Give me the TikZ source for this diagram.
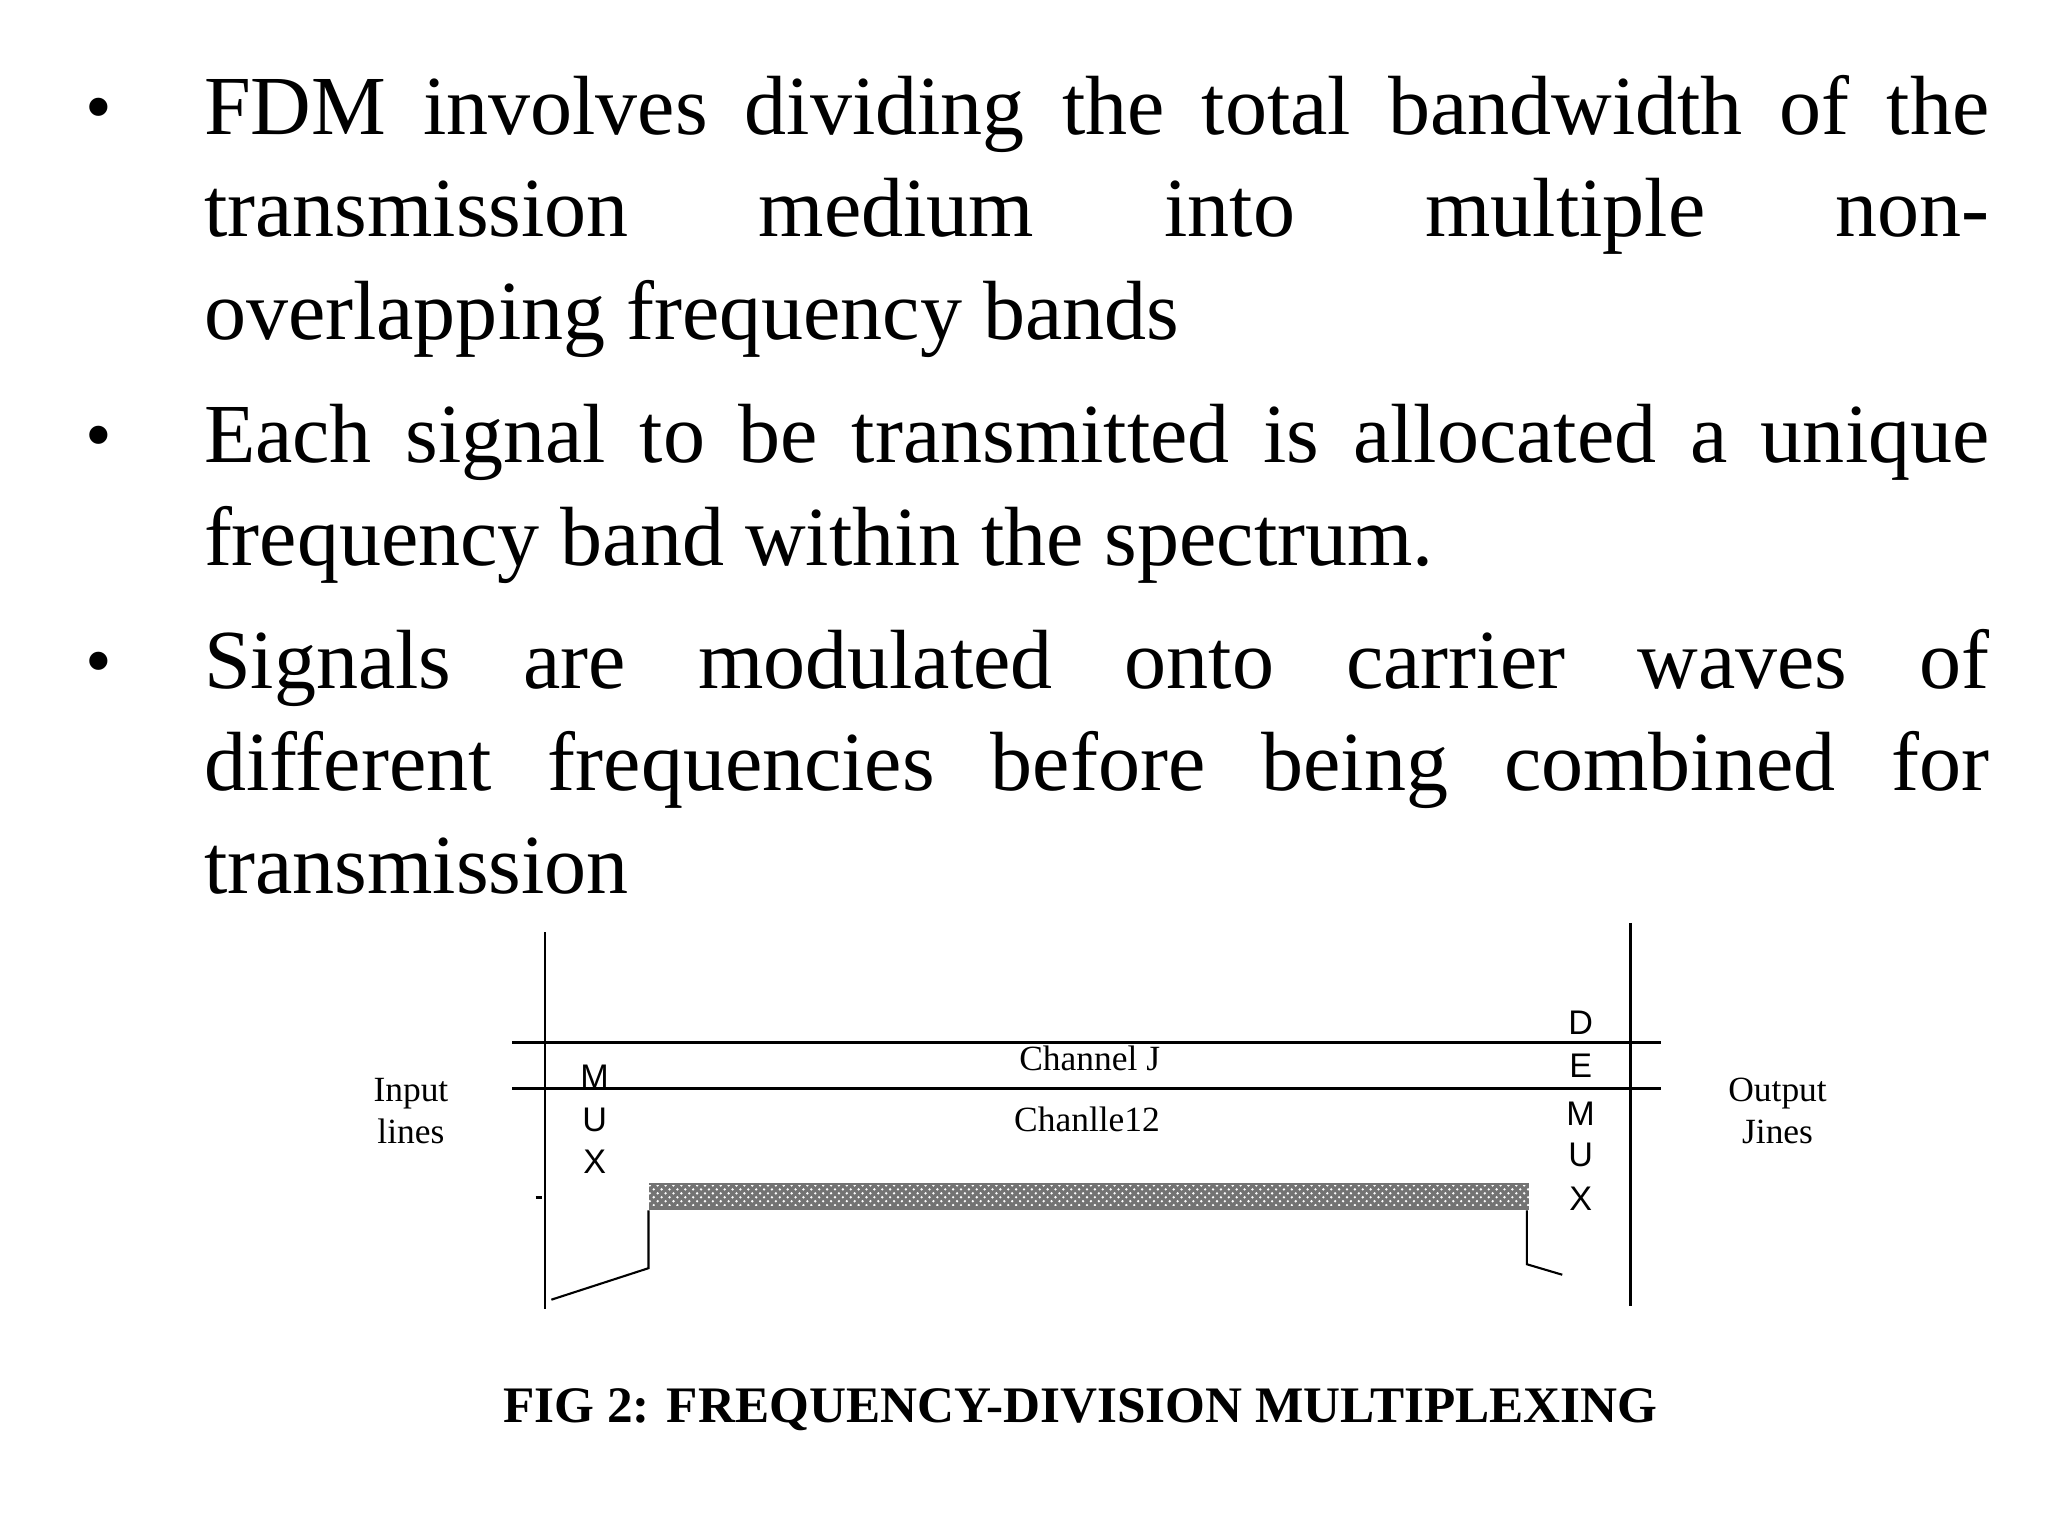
\documentclass[tikz,border=0pt]{standalone}
\usepackage{fontspec}
\setmainfont{Liberation Serif}
\newfontfamily\sansf{Liberation Sans}
\usetikzlibrary{patterns}
\begin{document}
\begin{tikzpicture}[x=0.5pt,y=-0.5pt,
  lbl/.style={font=\fontsize{13.5}{16}\selectfont, inner sep=0pt, align=center},
  let/.style={font=\sansf\fontsize{13}{13}\selectfont, inner sep=0pt},
  ln/.style={line width=0.8pt}]
\useasboundingbox (0,0) rectangle (1560,1170);
\node[anchor=north west, inner sep=0pt] (txt) at (155,57) {%
\begin{minipage}[t]{680pt}\fontsize{32}{39}\selectfont\setlength{\parskip}{8pt}\setlength{\parindent}{0pt}%
\rightskip=0pt \parfillskip=0pt plus 1fil
FDM involves dividing the total bandwidth of the\linebreak transmission medium into multiple non-\linebreak overlapping frequency bands\par
Each signal to be transmitted is allocated a unique\linebreak frequency band within the spectrum.\par
Signals are modulated onto carrier waves of\linebreak different frequencies before being combined for\linebreak transmission\par
\end{minipage}};
\foreach \y/\n in {88/b1,338/b2,510/b3}
  \node[font=\fontsize{29}{29}\selectfont, inner sep=0pt] (\n) at (75,\y) {•};
% diagram
\coordinate (l1) at (415,710); \coordinate (l2) at (415,997);
\coordinate (r1) at (1242,703); \coordinate (r2) at (1242,995);
\draw[ln] (l1) -- (l2);
\draw[ln] (r1) -- (r2);
\coordinate (h1a) at (390,794); \coordinate (h1b) at (1265,794);
\coordinate (h2a) at (390,829); \coordinate (h2b) at (1265,829);
\draw[line width=1.2pt] (h1a) -- (h1b);
\draw[line width=1.2pt] (h2a) -- (h2b);
\node[lbl] (cj) at (830,806) {Channel J};
\node[lbl] (c2) at (828,853) {Chanlle12};
\node[lbl] (in) at (313,846) {Input\\lines};
\node[lbl] (out) at (1354,846) {Output\\Jines};
\node[let] (m1) at (453,820) {M};
\node[let] (m2) at (453,853) {U};
\node[let] (m3) at (453,885) {X};
\foreach \l/\y/\n in {D/779/d1,E/812/d2,M/848/d3,U/880/d4,X/913/d5}
  \node[let] (\n) at (1204,\y) {\l};
\fill[black!55] (494,901) rectangle (1165,922);
\fill[pattern=crosshatch dots, pattern color=white] (494,903) rectangle (1165,918);
\coordinate (a1) at (494,922); \coordinate (a2) at (494,966); \coordinate (a3) at (420,990);
\coordinate (b1) at (1163,922); \coordinate (b2) at (1163,963); \coordinate (b3) at (1190,971);
\draw[ln] (a1) -- (a2) -- (a3);
\draw[ln] (b1) -- (b2) -- (b3);
\coordinate (t1) at (408,912); \coordinate (t2) at (413,912);
\draw[line width=1.2pt] (t1) -- (t2);
\node[font=\bfseries\fontsize{19.5}{19.5}\selectfont, inner sep=0pt] (cap) at (823,1074) {FIG 2: FREQUENCY-DIVISION MULTIPLEXING};
\end{tikzpicture}
\end{document}
